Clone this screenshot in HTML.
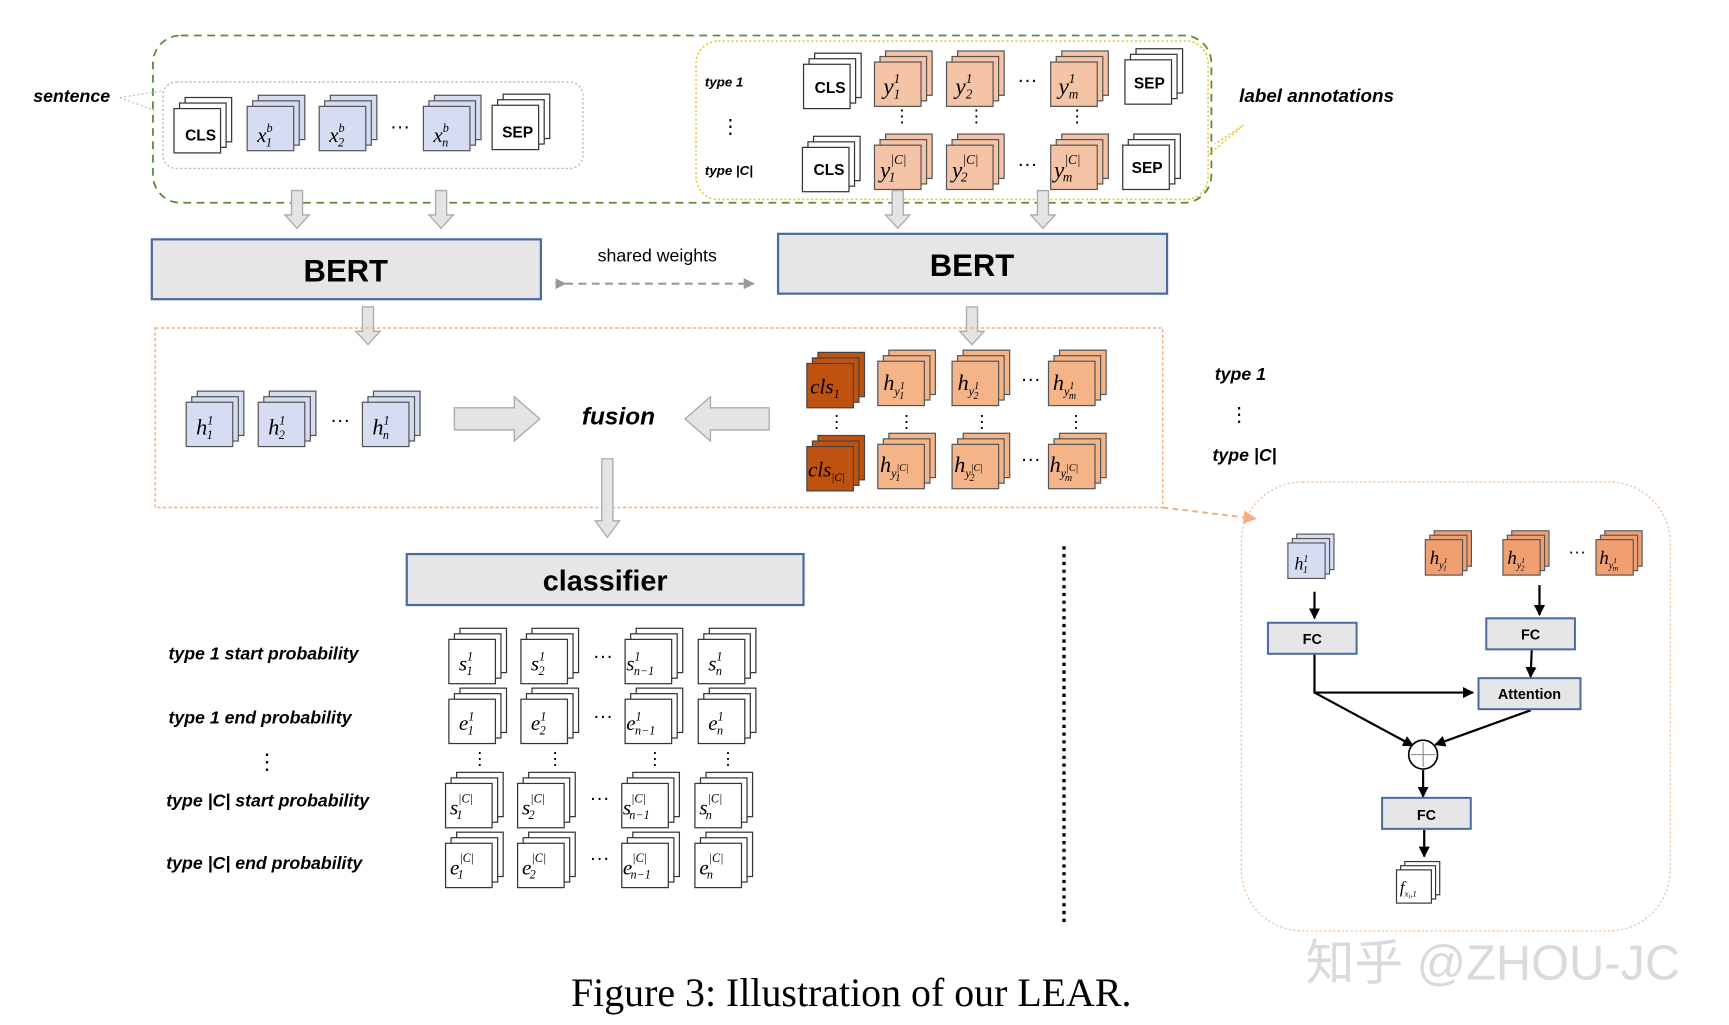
<!DOCTYPE html>
<html><head><meta charset="utf-8"><style>
html,body{margin:0;padding:0;background:#fff;}
svg{display:block}
.b{font-family:"Liberation Sans",sans-serif;font-weight:bold}
.bi{font-family:"Liberation Sans",sans-serif;font-weight:bold;font-style:italic}
.m{font-family:"Liberation Serif",serif;font-style:italic}
</style></head><body>
<svg width="1729" height="1025" viewBox="0 0 1560 925" preserveAspectRatio="none" xmlns="http://www.w3.org/2000/svg">
<defs>
<g id="c"><rect x="10" y="-10" width="42" height="40"/><rect x="5" y="-5" width="42" height="40"/><rect x="0" y="0" width="42" height="40"/></g>
<marker id="ah" markerWidth="10" markerHeight="10" refX="9" refY="5" orient="auto" markerUnits="userSpaceOnUse"><path d="M0,0 L10,5 L0,10 Z" fill="#000"/></marker>
<marker id="ag" markerWidth="10" markerHeight="10" refX="9" refY="5" orient="auto" markerUnits="userSpaceOnUse"><path d="M0,0 L10,5 L0,10 Z" fill="#999"/></marker>
<marker id="ao" markerWidth="12" markerHeight="12" refX="10" refY="6" orient="auto" markerUnits="userSpaceOnUse"><path d="M0,0 L12,6 L0,12 Z" fill="#f0b080"/></marker>
<path id="da" d="M-5,0 H5 V22 H11 L0,34 L-11,22 H-5 Z" fill="#e4e4e4" stroke="#aaa" stroke-width="1.2"/>
</defs>

<rect x="138" y="32" width="955" height="151" rx="25" fill="none" stroke="#5a8a3a" stroke-width="1.6" stroke-dasharray="7,5"/>
<rect x="147" y="74" width="379" height="78" rx="12" fill="none" stroke="#b0bedc" stroke-width="1.3" stroke-dasharray="2,2"/>
<text x="30" y="92" class="bi" font-size="16">sentence</text>
<path d="M108,88 L147,82 M108,88 L140,100" stroke="#b0bedc" stroke-dasharray="2,2" fill="none"/>

<g fill="#fff" stroke="#333" stroke-width="1.1">
<use href="#c" x="157" y="98"/>
<use href="#c" x="444" y="95"/>
</g>
<g fill="#d6dcf2" stroke="#555" stroke-width="1.1">
<use href="#c" x="223" y="96"/><use href="#c" x="288" y="96"/><use href="#c" x="382" y="96"/>
</g>
<text x="181" y="127" class="b" font-size="14" text-anchor="middle">CLS</text>
<text x="467" y="124" class="b" font-size="14" text-anchor="middle">SEP</text>
<text x="232" y="128" class="m" font-size="19">x<tspan font-size="11" dy="-9">b</tspan><tspan font-size="11" dx="-6" dy="13">1</tspan></text>
<text x="297" y="128" class="m" font-size="19">x<tspan font-size="11" dy="-9">b</tspan><tspan font-size="11" dx="-6" dy="13">2</tspan></text>
<text x="391" y="128" class="m" font-size="19">x<tspan font-size="11" dy="-9">b</tspan><tspan font-size="11" dx="-6" dy="13">n</tspan></text>
<text x="352" y="120" font-size="18" font-family="Liberation Sans">···</text>

<rect x="628" y="37" width="462" height="143" rx="20" fill="none" stroke="#e8c840" stroke-width="1.4" stroke-dasharray="2,2"/>
<text x="636" y="78" class="bi" font-size="12">type 1</text>
<text x="650" y="120" font-size="18" font-family="Liberation Sans">⋮</text>
<text x="636" y="158" class="bi" font-size="12">type |C|</text>
<text x="1118" y="92" class="bi" font-size="17">label annotations</text>
<path d="M1090,140 L1122,113 L1096,130" stroke="#e8c840" stroke-dasharray="2,2" fill="none" stroke-width="1.3"/>

<g fill="#fff" stroke="#333" stroke-width="1.1">
<use href="#c" x="725" y="58"/><use href="#c" x="1015" y="54"/>
<use href="#c" x="724" y="133"/><use href="#c" x="1013" y="131"/>
</g>
<g fill="#f5c4a6" stroke="#555" stroke-width="1.1">
<use href="#c" x="789" y="56"/><use href="#c" x="854" y="56"/><use href="#c" x="948" y="56"/>
<use href="#c" x="789" y="131"/><use href="#c" x="854" y="131"/><use href="#c" x="948" y="131"/>
</g>
<text x="749" y="84" class="b" font-size="14" text-anchor="middle">CLS</text>
<text x="1037" y="80" class="b" font-size="14" text-anchor="middle">SEP</text>
<text x="748" y="158" class="b" font-size="14" text-anchor="middle">CLS</text>
<text x="1035" y="156" class="b" font-size="14" text-anchor="middle">SEP</text>
<text x="797" y="85" class="m" font-size="21">y<tspan font-size="12" dy="-10">1</tspan><tspan font-size="12" dx="-6" dy="14">1</tspan></text>
<text x="862" y="85" class="m" font-size="21">y<tspan font-size="12" dy="-10">1</tspan><tspan font-size="12" dx="-6" dy="14">2</tspan></text>
<text x="955" y="85" class="m" font-size="21">y<tspan font-size="12" dy="-10">1</tspan><tspan font-size="12" dx="-6" dy="14">m</tspan></text>
<text x="794" y="160" class="m" font-size="21">y<tspan font-size="12" dy="-12">|C|</tspan><tspan font-size="12" dx="-16" dy="16">1</tspan></text>
<text x="859" y="160" class="m" font-size="21">y<tspan font-size="12" dy="-12">|C|</tspan><tspan font-size="12" dx="-16" dy="16">2</tspan></text>
<text x="951" y="160" class="m" font-size="21">y<tspan font-size="12" dy="-12">|C|</tspan><tspan font-size="12" dx="-16" dy="16">m</tspan></text>
<text x="918" y="78" font-size="18" font-family="Liberation Sans">···</text>
<text x="918" y="154" font-size="18" font-family="Liberation Sans">···</text>
<g font-size="16" font-family="Liberation Sans"><text x="806" y="110">⋮</text><text x="873" y="110">⋮</text><text x="964" y="110">⋮</text></g>

<use href="#da" x="268" y="172"/><use href="#da" x="398" y="172"/>
<use href="#da" x="810" y="172"/><use href="#da" x="941" y="172"/>

<rect x="137" y="216" width="351" height="54" fill="#e6e6e6" stroke="#4a6aa0" stroke-width="2"/>
<text x="312" y="254" class="b" font-size="28" text-anchor="middle">BERT</text>
<rect x="702" y="211" width="351" height="54" fill="#e6e6e6" stroke="#4a6aa0" stroke-width="2"/>
<text x="877" y="249" class="b" font-size="28" text-anchor="middle">BERT</text>
<text x="593" y="236" font-size="16" font-family="Liberation Sans" text-anchor="middle">shared weights</text>
<line x1="510" y1="256" x2="680" y2="256" stroke="#999" stroke-width="2" stroke-dasharray="7,5" marker-end="url(#ag)" marker-start="url(#ag)"/>

<use href="#da" x="332" y="277"/><use href="#da" x="877" y="277"/>

<rect x="140" y="296" width="909" height="162" fill="none" stroke="#f0b080" stroke-width="1.3" stroke-dasharray="3,2"/>
<g fill="#d6dcf2" stroke="#555" stroke-width="1.1">
<use href="#c" x="168" y="363"/><use href="#c" x="233" y="363"/><use href="#c" x="327" y="363"/>
</g>
<text x="177" y="392" class="m" font-size="20">h<tspan font-size="11" dy="-9">1</tspan><tspan font-size="11" dx="-6" dy="13">1</tspan></text>
<text x="242" y="392" class="m" font-size="20">h<tspan font-size="11" dy="-9">1</tspan><tspan font-size="11" dx="-6" dy="13">2</tspan></text>
<text x="336" y="392" class="m" font-size="20">h<tspan font-size="11" dy="-9">1</tspan><tspan font-size="11" dx="-6" dy="13">n</tspan></text>
<text x="298" y="385" font-size="18" font-family="Liberation Sans">···</text>
<path d="M410,368 H464 V358 L487,378 L464,398 V388 H410 Z" fill="#e4e4e4" stroke="#aaa" stroke-width="1.2"/>
<path d="M694,368 H641 V358 L618,378 L641,398 V388 H694 Z" fill="#e4e4e4" stroke="#aaa" stroke-width="1.2"/>
<text x="558" y="383" class="bi" font-size="22" text-anchor="middle">fusion</text>

<g fill="#c0520f" stroke="#444" stroke-width="1.1">
<use href="#c" x="728" y="328"/><use href="#c" x="728" y="403"/>
</g>
<g fill="#f4b488" stroke="#555" stroke-width="1.1">
<use href="#c" x="792" y="326"/><use href="#c" x="859" y="326"/><use href="#c" x="946" y="326"/>
<use href="#c" x="792" y="401"/><use href="#c" x="859" y="401"/><use href="#c" x="946" y="401"/>
</g>
<text x="731" y="355" class="m" font-size="19">cls<tspan font-size="11" dy="4">1</tspan></text>
<text x="729" y="430" class="m" font-size="19">cls<tspan font-size="10" dy="4">|C|</tspan></text>
<text x="797" y="352" class="m" font-size="20">h<tspan font-size="11" dy="5">y<tspan font-size="9" dy="-6">1</tspan><tspan font-size="9" dx="-5" dy="9">1</tspan></tspan></text>
<text x="864" y="352" class="m" font-size="20">h<tspan font-size="11" dy="5">y<tspan font-size="9" dy="-6">1</tspan><tspan font-size="9" dx="-5" dy="9">2</tspan></tspan></text>
<text x="950" y="352" class="m" font-size="20">h<tspan font-size="11" dy="5">y<tspan font-size="9" dy="-6">1</tspan><tspan font-size="9" dx="-5" dy="9">m</tspan></tspan></text>
<text x="794" y="426" class="m" font-size="20">h<tspan font-size="11" dy="5">y<tspan font-size="9" dy="-6">|C|</tspan><tspan font-size="9" dx="-12" dy="9">1</tspan></tspan></text>
<text x="861" y="426" class="m" font-size="20">h<tspan font-size="11" dy="5">y<tspan font-size="9" dy="-6">|C|</tspan><tspan font-size="9" dx="-12" dy="9">2</tspan></tspan></text>
<text x="947" y="426" class="m" font-size="20">h<tspan font-size="11" dy="5">y<tspan font-size="9" dy="-6">|C|</tspan><tspan font-size="9" dx="-12" dy="9">m</tspan></tspan></text>
<text x="921" y="348" font-size="18" font-family="Liberation Sans">···</text>
<text x="921" y="420" font-size="18" font-family="Liberation Sans">···</text>
<g font-size="16" font-family="Liberation Sans"><text x="747" y="386">⋮</text><text x="810" y="386">⋮</text><text x="878" y="386">⋮</text><text x="963" y="386">⋮</text></g>

<text x="1096" y="343" class="bi" font-size="16">type 1</text>
<text x="1109" y="380" font-size="18" font-family="Liberation Sans">⋮</text>
<text x="1094" y="416" class="bi" font-size="16">type |C|</text>

<path d="M543,414 H553 V470 H559 L548,485 L537,470 H543 Z" fill="#e4e4e4" stroke="#aaa" stroke-width="1.2"/>

<rect x="367" y="500" width="358" height="46" fill="#e6e6e6" stroke="#4a6aa0" stroke-width="2"/>
<text x="546" y="533" class="b" font-size="26" text-anchor="middle">classifier</text>

<g class="bi" font-size="16">
<text x="152" y="595">type 1 start probability</text>
<text x="152" y="653">type 1 end probability</text>
<text x="150" y="728">type |C| start probability</text>
<text x="150" y="784">type |C| end probability</text>
</g>
<text x="231" y="694" font-size="20" font-family="Liberation Sans">⋮</text>

<g fill="#fff" stroke="#333" stroke-width="1.1">
<use href="#c" x="405" y="577"/><use href="#c" x="470" y="577"/><use href="#c" x="564" y="577"/><use href="#c" x="630" y="577"/>
<use href="#c" x="405" y="631"/><use href="#c" x="470" y="631"/><use href="#c" x="564" y="631"/><use href="#c" x="630" y="631"/>
<use href="#c" x="402" y="707"/><use href="#c" x="467" y="707"/><use href="#c" x="561" y="707"/><use href="#c" x="627" y="707"/>
<use href="#c" x="402" y="761"/><use href="#c" x="467" y="761"/><use href="#c" x="561" y="761"/><use href="#c" x="627" y="761"/>
</g>
<g class="m" font-size="19">
<text x="414" y="605">s<tspan font-size="11" dy="-9">1</tspan><tspan font-size="11" dx="-6" dy="13">1</tspan></text>
<text x="479" y="605">s<tspan font-size="11" dy="-9">1</tspan><tspan font-size="11" dx="-6" dy="13">2</tspan></text>
<text x="565" y="605">s<tspan font-size="11" dy="-9">1</tspan><tspan font-size="11" dx="-6" dy="13">n−1</tspan></text>
<text x="639" y="605">s<tspan font-size="11" dy="-9">1</tspan><tspan font-size="11" dx="-6" dy="13">n</tspan></text>
<text x="414" y="659">e<tspan font-size="11" dy="-9">1</tspan><tspan font-size="11" dx="-6" dy="13">1</tspan></text>
<text x="479" y="659">e<tspan font-size="11" dy="-9">1</tspan><tspan font-size="11" dx="-6" dy="13">2</tspan></text>
<text x="565" y="659">e<tspan font-size="11" dy="-9">1</tspan><tspan font-size="11" dx="-6" dy="13">n−1</tspan></text>
<text x="639" y="659">e<tspan font-size="11" dy="-9">1</tspan><tspan font-size="11" dx="-6" dy="13">n</tspan></text>
<text x="406" y="735">s<tspan font-size="11" dy="-11">|C|</tspan><tspan font-size="11" dx="-15" dy="15">1</tspan></text>
<text x="471" y="735">s<tspan font-size="11" dy="-11">|C|</tspan><tspan font-size="11" dx="-15" dy="15">2</tspan></text>
<text x="562" y="735">s<tspan font-size="11" dy="-11">|C|</tspan><tspan font-size="11" dx="-15" dy="15">n−1</tspan></text>
<text x="631" y="735">s<tspan font-size="11" dy="-11">|C|</tspan><tspan font-size="11" dx="-15" dy="15">n</tspan></text>
<text x="406" y="789">e<tspan font-size="11" dy="-11">|C|</tspan><tspan font-size="11" dx="-15" dy="15">1</tspan></text>
<text x="471" y="789">e<tspan font-size="11" dy="-11">|C|</tspan><tspan font-size="11" dx="-15" dy="15">2</tspan></text>
<text x="562" y="789">e<tspan font-size="11" dy="-11">|C|</tspan><tspan font-size="11" dx="-15" dy="15">n−1</tspan></text>
<text x="631" y="789">e<tspan font-size="11" dy="-11">|C|</tspan><tspan font-size="11" dx="-15" dy="15">n</tspan></text>
</g>
<g font-size="18" font-family="Liberation Sans">
<text x="535" y="598">···</text><text x="535" y="652">···</text><text x="532" y="726">···</text><text x="532" y="780">···</text>
</g>
<g font-size="16" font-family="Liberation Sans"><text x="425" y="690">⋮</text><text x="493" y="690">⋮</text><text x="583" y="690">⋮</text><text x="649" y="690">⋮</text></g>

<line x1="960" y1="493" x2="960" y2="832" stroke="#000" stroke-width="3" stroke-dasharray="3,4"/>

<rect x="1120" y="435" width="387" height="405" rx="55" fill="none" stroke="#f0c8a8" stroke-width="1.3" stroke-dasharray="2,2"/>
<line x1="1049" y1="458" x2="1132" y2="468" stroke="#f0b080" stroke-width="1.8" stroke-dasharray="5,4" marker-end="url(#ao)"/>
<g transform="translate(1162,490) scale(0.8)" fill="#d6dcf2" stroke="#555" stroke-width="1.3"><use href="#c"/></g>
<text x="1168" y="514" class="m" font-size="16">h<tspan font-size="9" dy="-7">1</tspan><tspan font-size="9" dx="-5" dy="10">1</tspan></text>
<g fill="#f0a070" stroke="#555" stroke-width="1.3">
<g transform="translate(1286,487) scale(0.8)"><use href="#c"/></g>
<g transform="translate(1356,487) scale(0.8)"><use href="#c"/></g>
<g transform="translate(1440,487) scale(0.8)"><use href="#c"/></g>
</g>
<text x="1290" y="509" class="m" font-size="17">h<tspan font-size="9" dy="4">y<tspan font-size="7" dy="-5">1</tspan><tspan font-size="7" dx="-4" dy="7">1</tspan></tspan></text>
<text x="1360" y="509" class="m" font-size="17">h<tspan font-size="9" dy="4">y<tspan font-size="7" dy="-5">1</tspan><tspan font-size="7" dx="-4" dy="7">2</tspan></tspan></text>
<text x="1443" y="509" class="m" font-size="17">h<tspan font-size="9" dy="4">y<tspan font-size="7" dy="-5">1</tspan><tspan font-size="7" dx="-4" dy="7">m</tspan></tspan></text>
<text x="1415" y="503" font-size="16" font-family="Liberation Sans">···</text>

<g stroke="#000" stroke-width="2" fill="none">
<line x1="1186" y1="534" x2="1186" y2="558" marker-end="url(#ah)"/>
<line x1="1389" y1="528" x2="1389" y2="555" marker-end="url(#ah)"/>
<line x1="1382" y1="587" x2="1381" y2="611" marker-end="url(#ah)"/>
<path d="M1186,590 V625 H1329" marker-end="url(#ah)"/>
<line x1="1186" y1="625" x2="1275" y2="673" marker-end="url(#ah)"/>
<line x1="1381" y1="641" x2="1295" y2="672" marker-end="url(#ah)"/>
<line x1="1284" y1="695" x2="1284" y2="719" marker-end="url(#ah)"/>
<line x1="1285" y1="749" x2="1285" y2="773" marker-end="url(#ah)"/>
</g>
<rect x="1144" y="562" width="80" height="28" fill="#e6e6e6" stroke="#4a6aa0" stroke-width="1.8"/>
<text x="1184" y="581" class="b" font-size="13" text-anchor="middle">FC</text>
<rect x="1341" y="558" width="80" height="28" fill="#e6e6e6" stroke="#4a6aa0" stroke-width="1.8"/>
<text x="1381" y="577" class="b" font-size="13" text-anchor="middle">FC</text>
<rect x="1334" y="612" width="92" height="28" fill="#e6e6e6" stroke="#4a6aa0" stroke-width="1.8"/>
<text x="1380" y="631" class="b" font-size="13" text-anchor="middle">Attention</text>
<circle cx="1284" cy="681" r="13" fill="#fff" stroke="#000" stroke-width="1.5"/>
<path d="M1273,681 H1295 M1284,670 V692" stroke="#888" stroke-width="1"/>
<rect x="1247" y="720" width="80" height="28" fill="#e6e6e6" stroke="#4a6aa0" stroke-width="1.8"/>
<text x="1287" y="740" class="b" font-size="13" text-anchor="middle">FC</text>
<g transform="translate(1260,785) scale(0.75)" fill="#fff" stroke="#333" stroke-width="1.4"><use href="#c"/></g>
<text x="1263" y="806" class="m" font-size="15">f<tspan font-size="8" dy="3">x<tspan font-size="6" dy="2">i</tspan><tspan dy="-2">,1</tspan></tspan></text>

<text x="1178" y="884" font-size="44" fill="#dadada" font-family="Liberation Sans,Noto Sans CJK SC,sans-serif">知乎 @ZHOU-JC</text>
<text x="768" y="908" font-size="36" text-anchor="middle" font-family="Liberation Serif,serif">Figure 3: Illustration of our LEAR.</text>
</svg>
</body></html>
